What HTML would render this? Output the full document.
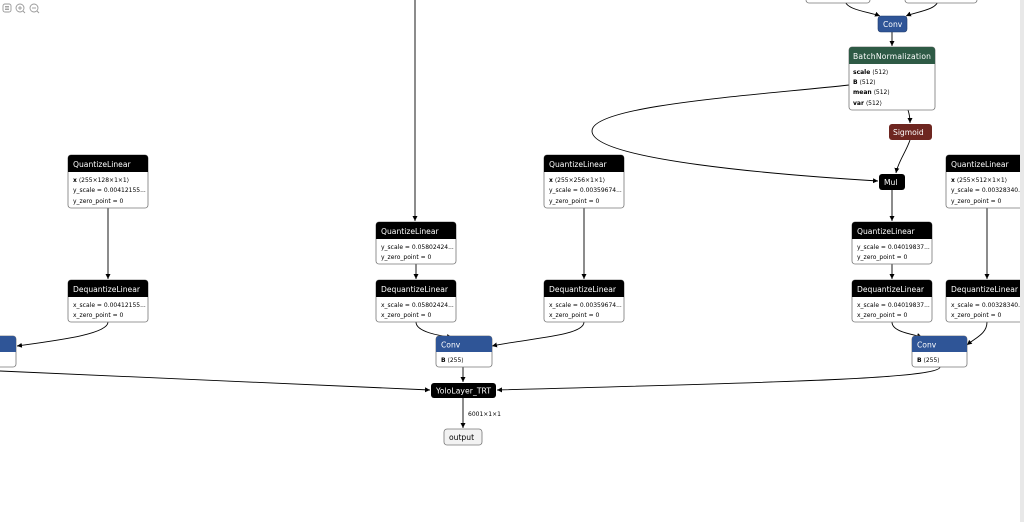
<!DOCTYPE html>
<html><head><meta charset="utf-8"><style>
html,body{margin:0;padding:0;background:#fff;}
svg{display:block;font-family:"DejaVu Sans","Liberation Sans",sans-serif;}
.h{font-size:7.6px;fill:#fff;letter-spacing:0}
.t{font-size:6px;fill:#000}
.b{font-weight:bold}
.e{fill:none;stroke:#000;stroke-width:0.9}
.bd{fill:#fff;stroke:#777;stroke-width:0.8}
</style></head><body>
<svg width="1024" height="522" viewBox="0 0 1024 522" xmlns="http://www.w3.org/2000/svg">
<defs><marker id="a" markerWidth="6" markerHeight="6" refX="5" refY="3" orient="auto" markerUnits="userSpaceOnUse"><path d="M0,0.5 L5,3 L0,5.5 z" fill="#000"/></marker></defs>
<g fill="none" stroke="#999" stroke-width="0.9">
<rect x="3" y="4" width="8" height="8" rx="2"/><line x1="5" y1="6.5" x2="9" y2="6.5"/><line x1="5" y1="8" x2="9" y2="8"/><line x1="5" y1="9.5" x2="9" y2="9.5"/>
<circle cx="20" cy="8" r="4"/><line x1="18" y1="8" x2="22" y2="8"/><line x1="20" y1="6" x2="20" y2="10"/><line x1="23" y1="11" x2="25" y2="13"/>
<circle cx="34" cy="8" r="4"/><line x1="32" y1="8" x2="36" y2="8"/><line x1="37" y1="11" x2="39" y2="13"/>
</g>
<path class="e" d="M415,0 L415,221" marker-end="url(#a)"/>
<path class="e" d="M108,208 L108,279" marker-end="url(#a)"/>
<path class="e" d="M584,208 L584,279" marker-end="url(#a)"/>
<path class="e" d="M416,264 L416,279" marker-end="url(#a)"/>
<path class="e" d="M892,190 L892,221" marker-end="url(#a)"/>
<path class="e" d="M892,264 L892,279" marker-end="url(#a)"/>
<path class="e" d="M987,208 L987,279" marker-end="url(#a)"/>
<path class="e" d="M108,322 C108,334 60,340 17,346" marker-end="url(#a)"/>
<path class="e" d="M416,322 C416,332 440,336 452,337" marker-end="url(#a)"/>
<path class="e" d="M584,322 C584,336 530,338 492,346" marker-end="url(#a)"/>
<path class="e" d="M892,322 C892,332 912,334 922,337" marker-end="url(#a)"/>
<path class="e" d="M987,322 C987,334 975,338 967,345" marker-end="url(#a)"/>
<path class="e" d="M463,367 L463,382" marker-end="url(#a)"/>
<path class="e" d="M0,371 C150,378 300,385 430,390" marker-end="url(#a)"/>
<path class="e" d="M940,367 C940,378 800,382 497,390" marker-end="url(#a)"/>
<path class="e" d="M463,398 L463,428" marker-end="url(#a)"/>
<path class="e" d="M845,0 C845,10 870,12 880,16" marker-end="url(#a)"/>
<path class="e" d="M938,0 C938,10 915,12 906,16" marker-end="url(#a)"/>
<path class="e" d="M892,32 L892,46" marker-end="url(#a)"/>
<path class="e" d="M908,110 C910,116 910,120 910,123" marker-end="url(#a)"/>
<path class="e" d="M910,140 C906,152 898,162 896,173" marker-end="url(#a)"/>
<path class="e" d="M849,85 C760,95 592,105 592,131 C592,160 780,175 878,181" marker-end="url(#a)"/>
<text x="468" y="416" class="t">6001×1×1</text>
<rect x="806" y="-5" width="64" height="8" rx="3" class="bd"/>
<rect x="905" y="-5" width="72" height="8" rx="3" class="bd"/>
<g transform="translate(68,155)"><rect width="80" height="53" rx="3" class="bd"/><path d="M0,3 a3,3 0 0 1 3,-3 h74 a3,3 0 0 1 3,3 v14 h-80z" fill="#000"/><text x="5" y="12" class="h">QuantizeLinear</text><text x="5" y="27" class="t"><tspan class="b">x</tspan> ⟨255×128×1×1⟩</text><text x="5" y="37" class="t">y_scale = 0.00412155...</text><text x="5" y="48" class="t">y_zero_point = 0</text></g>
<g transform="translate(68,280)"><rect width="80" height="42" rx="3" class="bd"/><path d="M0,3 a3,3 0 0 1 3,-3 h74 a3,3 0 0 1 3,3 v14 h-80z" fill="#000"/><text x="5" y="12" class="h">DequantizeLinear</text><text x="5" y="27" class="t">x_scale = 0.00412155...</text><text x="5" y="37" class="t">x_zero_point = 0</text></g>
<g transform="translate(-10,336)"><rect width="26" height="31" rx="3" class="bd"/><path d="M0,3 a3,3 0 0 1 3,-3 h20 a3,3 0 0 1 3,3 v13 h-26z" fill="#2f5597"/></g>
<g transform="translate(376,222)"><rect width="80" height="42" rx="3" class="bd"/><path d="M0,3 a3,3 0 0 1 3,-3 h74 a3,3 0 0 1 3,3 v14 h-80z" fill="#000"/><text x="5" y="12" class="h">QuantizeLinear</text><text x="5" y="27" class="t">y_scale = 0.05802424...</text><text x="5" y="37" class="t">y_zero_point = 0</text></g>
<g transform="translate(376,280)"><rect width="80" height="42" rx="3" class="bd"/><path d="M0,3 a3,3 0 0 1 3,-3 h74 a3,3 0 0 1 3,3 v14 h-80z" fill="#000"/><text x="5" y="12" class="h">DequantizeLinear</text><text x="5" y="27" class="t">x_scale = 0.05802424...</text><text x="5" y="37" class="t">x_zero_point = 0</text></g>
<g transform="translate(544,155)"><rect width="80" height="53" rx="3" class="bd"/><path d="M0,3 a3,3 0 0 1 3,-3 h74 a3,3 0 0 1 3,3 v14 h-80z" fill="#000"/><text x="5" y="12" class="h">QuantizeLinear</text><text x="5" y="27" class="t"><tspan class="b">x</tspan> ⟨255×256×1×1⟩</text><text x="5" y="37" class="t">y_scale = 0.00359674...</text><text x="5" y="48" class="t">y_zero_point = 0</text></g>
<g transform="translate(544,280)"><rect width="80" height="42" rx="3" class="bd"/><path d="M0,3 a3,3 0 0 1 3,-3 h74 a3,3 0 0 1 3,3 v14 h-80z" fill="#000"/><text x="5" y="12" class="h">DequantizeLinear</text><text x="5" y="27" class="t">x_scale = 0.00359674...</text><text x="5" y="37" class="t">x_zero_point = 0</text></g>
<g transform="translate(436,336)"><rect width="56" height="31" rx="3" class="bd"/><path d="M0,3 a3,3 0 0 1 3,-3 h50 a3,3 0 0 1 3,3 v13 h-56z" fill="#2f5597"/><text x="5" y="11.5" class="h">Conv</text><text x="5" y="26" class="t"><tspan class="b">B</tspan> ⟨255⟩</text></g>
<rect x="431" y="383" width="65" height="15" rx="3" fill="#000"/><text x="436" y="393.5" class="h" textLength="55">YoloLayer_TRT</text>
<rect x="444" y="429" width="38" height="16" rx="3" fill="#f2f2f2" stroke="#777" stroke-width="0.8"/><text x="449" y="440" class="h" style="fill:#000">output</text>
<rect x="878" y="16" width="29" height="16" rx="3" fill="#2f5597" stroke="#1f3a6a" stroke-width="0.6"/><text x="883" y="27" class="h">Conv</text>
<g transform="translate(849,47)"><rect width="86" height="63" rx="3" class="bd"/><path d="M0,3 a3,3 0 0 1 3,-3 h80 a3,3 0 0 1 3,3 v14 h-86z" fill="#2e5a45"/><text x="4" y="12" class="h" textLength="78">BatchNormalization</text><text x="4" y="27" class="t"><tspan class="b">scale</tspan> ⟨512⟩</text><text x="4" y="37" class="t"><tspan class="b">B</tspan> ⟨512⟩</text><text x="4" y="47" class="t"><tspan class="b">mean</tspan> ⟨512⟩</text><text x="4" y="58" class="t"><tspan class="b">var</tspan> ⟨512⟩</text></g>
<rect x="889" y="124" width="43" height="16" rx="3" fill="#6e2620"/><text x="893" y="135" class="h">Sigmoid</text>
<rect x="879" y="174" width="26" height="16" rx="3" fill="#000"/><text x="884" y="185" class="h">Mul</text>
<g transform="translate(852,222)"><rect width="80" height="42" rx="3" class="bd"/><path d="M0,3 a3,3 0 0 1 3,-3 h74 a3,3 0 0 1 3,3 v14 h-80z" fill="#000"/><text x="5" y="12" class="h">QuantizeLinear</text><text x="5" y="27" class="t">y_scale = 0.04019837...</text><text x="5" y="37" class="t">y_zero_point = 0</text></g>
<g transform="translate(852,280)"><rect width="80" height="42" rx="3" class="bd"/><path d="M0,3 a3,3 0 0 1 3,-3 h74 a3,3 0 0 1 3,3 v14 h-80z" fill="#000"/><text x="5" y="12" class="h">DequantizeLinear</text><text x="5" y="27" class="t">x_scale = 0.04019837...</text><text x="5" y="37" class="t">x_zero_point = 0</text></g>
<g transform="translate(946,155)"><rect width="80" height="53" rx="3" class="bd"/><path d="M0,3 a3,3 0 0 1 3,-3 h74 a3,3 0 0 1 3,3 v14 h-80z" fill="#000"/><text x="5" y="12" class="h">QuantizeLinear</text><text x="5" y="27" class="t"><tspan class="b">x</tspan> ⟨255×512×1×1⟩</text><text x="5" y="37" class="t">y_scale = 0.00328340...</text><text x="5" y="48" class="t">y_zero_point = 0</text></g>
<g transform="translate(946,280)"><rect width="80" height="42" rx="3" class="bd"/><path d="M0,3 a3,3 0 0 1 3,-3 h74 a3,3 0 0 1 3,3 v14 h-80z" fill="#000"/><text x="5" y="12" class="h">DequantizeLinear</text><text x="5" y="27" class="t">x_scale = 0.00328340...</text><text x="5" y="37" class="t">x_zero_point = 0</text></g>
<g transform="translate(912,336)"><rect width="55" height="31" rx="3" class="bd"/><path d="M0,3 a3,3 0 0 1 3,-3 h49 a3,3 0 0 1 3,3 v13 h-55z" fill="#2f5597"/><text x="5" y="11.5" class="h">Conv</text><text x="5" y="26" class="t"><tspan class="b">B</tspan> ⟨255⟩</text></g>
<rect x="1020" y="0" width="4" height="522" fill="#e8e8e8"/>
</svg>
</body></html>
